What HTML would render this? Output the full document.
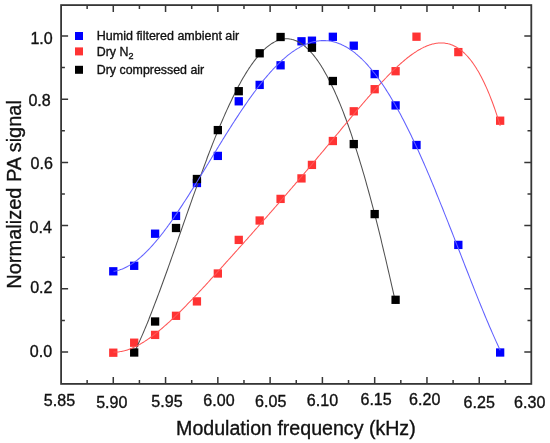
<!DOCTYPE html>
<html><head><meta charset="utf-8"><style>
html,body{margin:0;padding:0;background:#fff;}
svg{display:block;}
text{font-family:"Liberation Sans",Arial,sans-serif;fill:#111;stroke:#111;stroke-width:0.35px;}
</style></head><body>
<svg width="550" height="443" viewBox="0 0 550 443">
<rect width="550" height="443" fill="#fff"/>
<g>
<rect x="109.13" y="267.15" width="8.3" height="8.3" fill="#0000ff"/>
<rect x="130.04" y="261.65" width="8.3" height="8.3" fill="#0000ff"/>
<rect x="150.95" y="229.55" width="8.3" height="8.3" fill="#0000ff"/>
<rect x="171.87" y="211.75" width="8.3" height="8.3" fill="#0000ff"/>
<rect x="192.78" y="178.85" width="8.3" height="8.3" fill="#0000ff"/>
<rect x="213.69" y="151.75" width="8.3" height="8.3" fill="#0000ff"/>
<rect x="234.60" y="97.15" width="8.3" height="8.3" fill="#0000ff"/>
<rect x="255.51" y="80.75" width="8.3" height="8.3" fill="#0000ff"/>
<rect x="276.43" y="61.15" width="8.3" height="8.3" fill="#0000ff"/>
<rect x="297.34" y="37.15" width="8.3" height="8.3" fill="#0000ff"/>
<rect x="307.79" y="36.55" width="8.3" height="8.3" fill="#0000ff"/>
<rect x="328.71" y="32.65" width="8.3" height="8.3" fill="#0000ff"/>
<rect x="349.62" y="41.55" width="8.3" height="8.3" fill="#0000ff"/>
<rect x="370.53" y="69.95" width="8.3" height="8.3" fill="#0000ff"/>
<rect x="391.44" y="101.25" width="8.3" height="8.3" fill="#0000ff"/>
<rect x="412.35" y="140.85" width="8.3" height="8.3" fill="#0000ff"/>
<rect x="454.18" y="240.75" width="8.3" height="8.3" fill="#0000ff"/>
<rect x="496.00" y="348.35" width="8.3" height="8.3" fill="#0000ff"/>
<rect x="109.13" y="348.55" width="8.3" height="8.3" fill="#ff3333"/>
<rect x="130.04" y="338.55" width="8.3" height="8.3" fill="#ff3333"/>
<rect x="150.95" y="330.75" width="8.3" height="8.3" fill="#ff3333"/>
<rect x="171.87" y="311.65" width="8.3" height="8.3" fill="#ff3333"/>
<rect x="192.78" y="297.25" width="8.3" height="8.3" fill="#ff3333"/>
<rect x="213.69" y="269.35" width="8.3" height="8.3" fill="#ff3333"/>
<rect x="234.60" y="235.75" width="8.3" height="8.3" fill="#ff3333"/>
<rect x="255.51" y="216.35" width="8.3" height="8.3" fill="#ff3333"/>
<rect x="276.43" y="194.75" width="8.3" height="8.3" fill="#ff3333"/>
<rect x="297.34" y="174.25" width="8.3" height="8.3" fill="#ff3333"/>
<rect x="307.79" y="160.75" width="8.3" height="8.3" fill="#ff3333"/>
<rect x="328.71" y="136.85" width="8.3" height="8.3" fill="#ff3333"/>
<rect x="349.62" y="107.15" width="8.3" height="8.3" fill="#ff3333"/>
<rect x="370.53" y="85.05" width="8.3" height="8.3" fill="#ff3333"/>
<rect x="391.44" y="67.05" width="8.3" height="8.3" fill="#ff3333"/>
<rect x="412.35" y="32.55" width="8.3" height="8.3" fill="#ff3333"/>
<rect x="454.18" y="47.95" width="8.3" height="8.3" fill="#ff3333"/>
<rect x="496.00" y="116.55" width="8.3" height="8.3" fill="#ff3333"/>
</g>
<path d="M134.7,351.5 L135.7,349.5 L136.7,347.4 L137.7,345.2 L138.7,343.1 L139.7,340.9 L140.7,338.6 L141.7,336.4 L142.7,334.1 L143.7,331.7 L144.7,329.4 L145.7,327.0 L146.7,324.6 L147.7,322.2 L148.7,319.7 L149.6,317.2 L150.6,314.7 L151.6,312.2 L152.6,309.6 L153.6,307.0 L154.6,304.4 L155.6,301.8 L156.6,299.2 L157.6,296.5 L158.6,293.9 L159.6,291.2 L160.6,288.5 L161.6,285.8 L162.6,283.0 L163.6,280.3 L164.6,277.5 L165.6,274.8 L166.6,272.0 L167.6,269.2 L168.6,266.4 L169.6,263.6 L170.6,260.8 L171.6,257.9 L172.6,255.1 L173.6,252.3 L174.6,249.4 L175.6,246.6 L176.6,243.7 L177.6,240.9 L178.5,238.0 L179.5,235.2 L180.5,232.3 L181.5,229.5 L182.5,226.6 L183.5,223.8 L184.5,220.9 L185.5,218.1 L186.5,215.2 L187.5,212.4 L188.5,209.5 L189.5,206.7 L190.5,203.9 L191.5,201.1 L192.5,198.2 L193.5,195.4 L194.5,192.6 L195.5,189.9 L196.5,187.1 L197.5,184.3 L198.5,181.6 L199.5,178.8 L200.5,176.1 L201.5,173.4 L202.5,170.7 L203.5,168.0 L204.5,165.3 L205.5,162.6 L206.5,160.0 L207.4,157.3 L208.4,154.7 L209.4,152.1 L210.4,149.6 L211.4,147.0 L212.4,144.4 L213.4,141.9 L214.4,139.4 L215.4,136.9 L216.4,134.5 L217.4,132.0 L218.4,129.6 L219.4,127.2 L220.4,124.8 L221.4,122.5 L222.4,120.2 L223.4,117.9 L224.4,115.6 L225.4,113.3 L226.4,111.1 L227.4,108.9 L228.4,106.7 L229.4,104.6 L230.4,102.5 L231.4,100.4 L232.4,98.3 L233.4,96.3 L234.4,94.3 L235.4,92.3 L236.3,90.3 L237.3,88.4 L238.3,86.5 L239.3,84.7 L240.3,82.9 L241.3,81.1 L242.3,79.3 L243.3,77.6 L244.3,75.9 L245.3,74.2 L246.3,72.6 L247.3,71.0 L248.3,69.5 L249.3,67.9 L250.3,66.5 L251.3,65.0 L252.3,63.6 L253.3,62.2 L254.3,60.9 L255.3,59.6 L256.3,58.3 L257.3,57.1 L258.3,55.9 L259.3,54.7 L260.3,53.6 L261.3,52.5 L262.3,51.5 L263.3,50.5 L264.3,49.5 L265.2,48.6 L266.2,47.7 L267.2,46.9 L268.2,46.1 L269.2,45.3 L270.2,44.6 L271.2,43.9 L272.2,43.3 L273.2,42.7 L274.2,42.1 L275.2,41.6 L276.2,41.1 L277.2,40.7 L278.2,40.3 L279.2,40.0 L280.2,39.7 L281.2,39.4 L282.2,39.2 L283.2,39.0 L284.2,38.9 L285.2,38.8 L286.2,38.8 L287.2,38.8 L288.2,38.8 L289.2,38.9 L290.2,39.1 L291.2,39.2 L292.2,39.5 L293.2,39.7 L294.2,40.1 L295.1,40.4 L296.1,40.8 L297.1,41.3 L298.1,41.8 L299.1,42.3 L300.1,42.9 L301.1,43.5 L302.1,44.2 L303.1,44.9 L304.1,45.7 L305.1,46.5 L306.1,47.4 L307.1,48.3 L308.1,49.2 L309.1,50.2 L310.1,51.3 L311.1,52.4 L312.1,53.5 L313.1,54.7 L314.1,55.9 L315.1,57.2 L316.1,58.5 L317.1,59.9 L318.1,61.3 L319.1,62.8 L320.1,64.3 L321.1,65.8 L322.1,67.4 L323.1,69.1 L324.0,70.7 L325.0,72.5 L326.0,74.3 L327.0,76.1 L328.0,78.0 L329.0,79.9 L330.0,81.8 L331.0,83.8 L332.0,85.9 L333.0,88.0 L334.0,90.1 L335.0,92.3 L336.0,94.6 L337.0,96.8 L338.0,99.2 L339.0,101.5 L340.0,103.9 L341.0,106.4 L342.0,108.9 L343.0,111.4 L344.0,114.0 L345.0,116.7 L346.0,119.3 L347.0,122.1 L348.0,124.8 L349.0,127.6 L350.0,130.5 L351.0,133.4 L352.0,136.3 L352.9,139.3 L353.9,142.3 L354.9,145.4 L355.9,148.5 L356.9,151.6 L357.9,154.8 L358.9,158.0 L359.9,161.3 L360.9,164.6 L361.9,167.9 L362.9,171.3 L363.9,174.7 L364.9,178.2 L365.9,181.7 L366.9,185.3 L367.9,188.9 L368.9,192.5 L369.9,196.1 L370.9,199.8 L371.9,203.6 L372.9,207.4 L373.9,211.2 L374.9,215.0 L375.9,218.9 L376.9,222.8 L377.9,226.8 L378.9,230.8 L379.9,234.8 L380.9,238.9 L381.8,243.0 L382.8,247.1 L383.8,251.3 L384.8,255.5 L385.8,259.7 L386.8,264.0 L387.8,268.3 L388.8,272.6 L389.8,277.0 L390.8,281.4 L391.8,285.8 L392.8,290.2 L393.8,294.7 L394.8,299.2 L395.8,303.8" fill="none" stroke="#505050" stroke-width="1.05"/>
<g>
<rect x="130.04" y="348.35" width="8.3" height="8.3" fill="#000000"/>
<rect x="150.95" y="317.35" width="8.3" height="8.3" fill="#000000"/>
<rect x="171.87" y="223.85" width="8.3" height="8.3" fill="#000000"/>
<rect x="192.78" y="174.85" width="8.3" height="8.3" fill="#000000"/>
<rect x="213.69" y="125.95" width="8.3" height="8.3" fill="#000000"/>
<rect x="234.60" y="87.05" width="8.3" height="8.3" fill="#000000"/>
<rect x="255.51" y="49.15" width="8.3" height="8.3" fill="#000000"/>
<rect x="276.43" y="32.85" width="8.3" height="8.3" fill="#000000"/>
<rect x="307.79" y="43.55" width="8.3" height="8.3" fill="#000000"/>
<rect x="328.71" y="76.85" width="8.3" height="8.3" fill="#000000"/>
<rect x="349.62" y="139.95" width="8.3" height="8.3" fill="#000000"/>
<rect x="370.53" y="209.95" width="8.3" height="8.3" fill="#000000"/>
<rect x="391.44" y="295.65" width="8.3" height="8.3" fill="#000000"/>
</g>
<path d="M113.4,352.0 L114.4,352.0 L115.4,352.0 L116.4,352.0 L117.4,351.9 L118.4,351.9 L119.4,351.7 L120.4,351.6 L121.4,351.4 L122.4,351.2 L123.4,351.0 L124.4,350.8 L125.4,350.5 L126.4,350.2 L127.4,349.9 L128.4,349.6 L129.4,349.2 L130.4,348.8 L131.4,348.4 L132.4,348.0 L133.4,347.6 L134.4,347.1 L135.4,346.6 L136.4,346.2 L137.4,345.6 L138.4,345.1 L139.4,344.6 L140.4,344.0 L141.4,343.4 L142.4,342.8 L143.4,342.2 L144.4,341.6 L145.4,340.9 L146.4,340.3 L147.4,339.6 L148.4,338.9 L149.4,338.2 L150.4,337.5 L151.4,336.8 L152.4,336.0 L153.4,335.3 L154.4,334.5 L155.4,333.7 L156.4,332.9 L157.4,332.1 L158.4,331.3 L159.4,330.5 L160.4,329.7 L161.4,328.8 L162.4,328.0 L163.4,327.1 L164.4,326.2 L165.4,325.4 L166.4,324.5 L167.4,323.6 L168.4,322.7 L169.4,321.8 L170.4,320.8 L171.4,319.9 L172.4,319.0 L173.4,318.0 L174.4,317.1 L175.4,316.1 L176.4,315.2 L177.4,314.2 L178.4,313.2 L179.4,312.3 L180.4,311.3 L181.4,310.3 L182.4,309.3 L183.4,308.3 L184.4,307.3 L185.4,306.3 L186.4,305.3 L187.4,304.2 L188.4,303.2 L189.4,302.2 L190.4,301.1 L191.4,300.1 L192.4,299.1 L193.4,298.0 L194.4,297.0 L195.4,295.9 L196.4,294.9 L197.4,293.8 L198.4,292.8 L199.4,291.7 L200.4,290.6 L201.4,289.6 L202.4,288.5 L203.4,287.4 L204.4,286.3 L205.4,285.3 L206.4,284.2 L207.4,283.1 L208.4,282.0 L209.4,280.9 L210.3,279.8 L211.3,278.7 L212.3,277.7 L213.3,276.6 L214.3,275.5 L215.3,274.4 L216.3,273.3 L217.3,272.2 L218.3,271.1 L219.3,270.0 L220.3,268.9 L221.3,267.8 L222.3,266.7 L223.3,265.6 L224.3,264.4 L225.3,263.3 L226.3,262.2 L227.3,261.1 L228.3,260.0 L229.3,258.9 L230.3,257.8 L231.3,256.7 L232.3,255.6 L233.3,254.4 L234.3,253.3 L235.3,252.2 L236.3,251.1 L237.3,250.0 L238.3,248.9 L239.3,247.7 L240.3,246.6 L241.3,245.5 L242.3,244.4 L243.3,243.3 L244.3,242.1 L245.3,241.0 L246.3,239.9 L247.3,238.8 L248.3,237.6 L249.3,236.5 L250.3,235.4 L251.3,234.3 L252.3,233.1 L253.3,232.0 L254.3,230.9 L255.3,229.7 L256.3,228.6 L257.3,227.5 L258.3,226.3 L259.3,225.2 L260.3,224.1 L261.3,223.0 L262.3,221.8 L263.3,220.7 L264.3,219.5 L265.3,218.4 L266.3,217.3 L267.3,216.1 L268.3,215.0 L269.3,213.9 L270.3,212.7 L271.3,211.6 L272.3,210.4 L273.3,209.3 L274.3,208.1 L275.3,207.0 L276.3,205.9 L277.3,204.7 L278.3,203.6 L279.3,202.4 L280.3,201.3 L281.3,200.1 L282.3,199.0 L283.3,197.8 L284.3,196.7 L285.3,195.5 L286.3,194.3 L287.3,193.2 L288.3,192.0 L289.3,190.9 L290.3,189.7 L291.3,188.5 L292.3,187.4 L293.3,186.2 L294.3,185.1 L295.3,183.9 L296.3,182.7 L297.3,181.6 L298.3,180.4 L299.3,179.2 L300.3,178.0 L301.3,176.9 L302.3,175.7 L303.3,174.5 L304.3,173.3 L305.3,172.2 L306.3,171.0 L307.3,169.8 L308.3,168.6 L309.3,167.4 L310.3,166.3 L311.3,165.1 L312.3,163.9 L313.3,162.7 L314.3,161.5 L315.3,160.3 L316.3,159.1 L317.3,157.9 L318.3,156.7 L319.3,155.5 L320.3,154.4 L321.3,153.2 L322.3,152.0 L323.3,150.8 L324.3,149.6 L325.3,148.4 L326.3,147.2 L327.3,146.0 L328.3,144.8 L329.3,143.6 L330.3,142.4 L331.3,141.2 L332.3,140.0 L333.3,138.8 L334.3,137.6 L335.3,136.4 L336.3,135.2 L337.3,134.0 L338.3,132.8 L339.3,131.6 L340.3,130.4 L341.3,129.1 L342.3,127.9 L343.3,126.7 L344.3,125.5 L345.3,124.3 L346.3,123.1 L347.3,122.0 L348.3,120.8 L349.3,119.6 L350.3,118.4 L351.3,117.2 L352.3,116.0 L353.3,114.8 L354.3,113.6 L355.3,112.4 L356.3,111.2 L357.3,110.0 L358.3,108.9 L359.3,107.7 L360.3,106.5 L361.3,105.3 L362.3,104.2 L363.3,103.0 L364.3,101.8 L365.3,100.7 L366.3,99.5 L367.3,98.4 L368.3,97.2 L369.3,96.1 L370.3,94.9 L371.3,93.8 L372.3,92.7 L373.3,91.6 L374.3,90.4 L375.3,89.3 L376.3,88.2 L377.3,87.1 L378.3,86.0 L379.3,84.9 L380.3,83.8 L381.3,82.7 L382.3,81.7 L383.3,80.6 L384.3,79.6 L385.3,78.5 L386.3,77.5 L387.3,76.4 L388.3,75.4 L389.3,74.4 L390.3,73.4 L391.3,72.4 L392.3,71.4 L393.3,70.4 L394.3,69.5 L395.3,68.5 L396.3,67.6 L397.3,66.6 L398.3,65.7 L399.3,64.8 L400.3,63.9 L401.3,63.0 L402.3,62.2 L403.3,61.3 L404.2,60.5 L405.2,59.6 L406.2,58.8 L407.2,58.0 L408.2,57.2 L409.2,56.5 L410.2,55.7 L411.2,55.0 L412.2,54.3 L413.2,53.6 L414.2,52.9 L415.2,52.2 L416.2,51.6 L417.2,50.9 L418.2,50.3 L419.2,49.7 L420.2,49.2 L421.2,48.6 L422.2,48.1 L423.2,47.6 L424.2,47.1 L425.2,46.7 L426.2,46.2 L427.2,45.8 L428.2,45.4 L429.2,45.1 L430.2,44.7 L431.2,44.4 L432.2,44.1 L433.2,43.9 L434.2,43.7 L435.2,43.5 L436.2,43.3 L437.2,43.2 L438.2,43.1 L439.2,43.0 L440.2,42.9 L441.2,42.9 L442.2,42.9 L443.2,43.0 L444.2,43.1 L445.2,43.2 L446.2,43.4 L447.2,43.5 L448.2,43.8 L449.2,44.0 L450.2,44.3 L451.2,44.7 L452.2,45.1 L453.2,45.5 L454.2,46.0 L455.2,46.5 L456.2,47.0 L457.2,47.6 L458.2,48.2 L459.2,48.9 L460.2,49.6 L461.2,50.4 L462.2,51.2 L463.2,52.1 L464.2,53.0 L465.2,54.0 L466.2,55.0 L467.2,56.0 L468.2,57.1 L469.2,58.3 L470.2,59.5 L471.2,60.8 L472.2,62.1 L473.2,63.5 L474.2,65.0 L475.2,66.5 L476.2,68.0 L477.2,69.7 L478.2,71.3 L479.2,73.1 L480.2,74.9 L481.2,76.8 L482.2,78.7 L483.2,80.7 L484.2,82.8 L485.2,84.9 L486.2,87.1 L487.2,89.4 L488.2,91.7 L489.2,94.1 L490.2,96.6 L491.2,99.2 L492.2,101.8 L493.2,104.5 L494.2,107.3 L495.2,110.2 L496.2,113.1 L497.2,116.2 L498.2,119.3 L499.2,122.5 L500.2,125.8" fill="none" stroke="#ff5555" stroke-width="1.05"/>
<path d="M113.5,271.3 L114.5,271.2 L115.5,271.0 L116.5,270.8 L117.5,270.5 L118.5,270.3 L119.5,270.0 L120.5,269.6 L121.5,269.3 L122.5,268.9 L123.5,268.5 L124.5,268.0 L125.5,267.5 L126.5,267.0 L127.5,266.5 L128.5,265.9 L129.5,265.4 L130.5,264.8 L131.5,264.1 L132.5,263.5 L133.5,262.8 L134.5,262.1 L135.5,261.3 L136.5,260.6 L137.5,259.8 L138.5,259.0 L139.5,258.1 L140.5,257.3 L141.5,256.4 L142.5,255.5 L143.5,254.6 L144.5,253.6 L145.5,252.6 L146.5,251.7 L147.5,250.7 L148.5,249.6 L149.5,248.6 L150.5,247.5 L151.5,246.4 L152.5,245.3 L153.5,244.2 L154.5,243.0 L155.5,241.9 L156.5,240.7 L157.5,239.5 L158.5,238.3 L159.5,237.0 L160.5,235.8 L161.5,234.5 L162.5,233.3 L163.5,232.0 L164.5,230.6 L165.5,229.3 L166.5,228.0 L167.5,226.6 L168.5,225.3 L169.5,223.9 L170.5,222.5 L171.5,221.1 L172.5,219.7 L173.5,218.2 L174.5,216.8 L175.5,215.3 L176.5,213.9 L177.5,212.4 L178.4,210.9 L179.4,209.4 L180.4,207.9 L181.4,206.4 L182.4,204.9 L183.4,203.3 L184.4,201.8 L185.4,200.3 L186.4,198.7 L187.4,197.1 L188.4,195.6 L189.4,194.0 L190.4,192.4 L191.4,190.8 L192.4,189.2 L193.4,187.6 L194.4,186.0 L195.4,184.4 L196.4,182.8 L197.4,181.2 L198.4,179.5 L199.4,177.9 L200.4,176.3 L201.4,174.6 L202.4,173.0 L203.4,171.4 L204.4,169.7 L205.4,168.1 L206.4,166.5 L207.4,164.8 L208.4,163.2 L209.4,161.5 L210.4,159.9 L211.4,158.2 L212.4,156.6 L213.4,154.9 L214.4,153.3 L215.4,151.7 L216.4,150.0 L217.4,148.4 L218.4,146.8 L219.4,145.1 L220.4,143.5 L221.4,141.9 L222.4,140.3 L223.4,138.6 L224.4,137.0 L225.4,135.4 L226.4,133.8 L227.4,132.2 L228.4,130.6 L229.4,129.0 L230.4,127.5 L231.4,125.9 L232.4,124.3 L233.4,122.7 L234.4,121.2 L235.4,119.6 L236.4,118.1 L237.4,116.6 L238.4,115.1 L239.4,113.5 L240.4,112.0 L241.4,110.5 L242.4,109.0 L243.4,107.6 L244.4,106.1 L245.4,104.6 L246.4,103.2 L247.4,101.8 L248.4,100.3 L249.4,98.9 L250.4,97.5 L251.4,96.1 L252.4,94.7 L253.4,93.4 L254.4,92.0 L255.4,90.7 L256.4,89.3 L257.4,88.0 L258.4,86.7 L259.4,85.4 L260.4,84.1 L261.4,82.9 L262.4,81.6 L263.4,80.4 L264.4,79.2 L265.4,78.0 L266.4,76.8 L267.4,75.6 L268.4,74.5 L269.4,73.3 L270.4,72.2 L271.4,71.1 L272.4,70.0 L273.4,68.9 L274.4,67.9 L275.4,66.8 L276.4,65.8 L277.4,64.8 L278.4,63.8 L279.4,62.8 L280.4,61.9 L281.4,60.9 L282.4,60.0 L283.4,59.1 L284.4,58.3 L285.4,57.4 L286.4,56.6 L287.4,55.7 L288.4,54.9 L289.4,54.2 L290.4,53.4 L291.4,52.7 L292.4,51.9 L293.4,51.2 L294.4,50.6 L295.4,49.9 L296.4,49.3 L297.4,48.6 L298.4,48.1 L299.4,47.5 L300.4,46.9 L301.4,46.4 L302.4,45.9 L303.4,45.4 L304.4,44.9 L305.4,44.5 L306.4,44.1 L307.3,43.7 L308.3,43.3 L309.3,43.0 L310.3,42.7 L311.3,42.3 L312.3,42.1 L313.3,41.8 L314.3,41.6 L315.3,41.4 L316.3,41.2 L317.3,41.0 L318.3,40.9 L319.3,40.8 L320.3,40.7 L321.3,40.6 L322.3,40.6 L323.3,40.6 L324.3,40.6 L325.3,40.6 L326.3,40.7 L327.3,40.7 L328.3,40.8 L329.3,41.0 L330.3,41.1 L331.3,41.3 L332.3,41.5 L333.3,41.7 L334.3,42.0 L335.3,42.3 L336.3,42.6 L337.3,42.9 L338.3,43.3 L339.3,43.7 L340.3,44.1 L341.3,44.5 L342.3,45.0 L343.3,45.4 L344.3,46.0 L345.3,46.5 L346.3,47.0 L347.3,47.6 L348.3,48.2 L349.3,48.9 L350.3,49.5 L351.3,50.2 L352.3,50.9 L353.3,51.7 L354.3,52.4 L355.3,53.2 L356.3,54.1 L357.3,54.9 L358.3,55.8 L359.3,56.7 L360.3,57.6 L361.3,58.5 L362.3,59.5 L363.3,60.5 L364.3,61.5 L365.3,62.5 L366.3,63.6 L367.3,64.7 L368.3,65.8 L369.3,67.0 L370.3,68.1 L371.3,69.3 L372.3,70.5 L373.3,71.8 L374.3,73.0 L375.3,74.3 L376.3,75.6 L377.3,77.0 L378.3,78.3 L379.3,79.7 L380.3,81.1 L381.3,82.6 L382.3,84.0 L383.3,85.5 L384.3,87.0 L385.3,88.5 L386.3,90.1 L387.3,91.7 L388.3,93.3 L389.3,94.9 L390.3,96.5 L391.3,98.2 L392.3,99.9 L393.3,101.6 L394.3,103.3 L395.3,105.0 L396.3,106.8 L397.3,108.6 L398.3,110.4 L399.3,112.3 L400.3,114.1 L401.3,116.0 L402.3,117.9 L403.3,119.8 L404.3,121.8 L405.3,123.7 L406.3,125.7 L407.3,127.7 L408.3,129.7 L409.3,131.7 L410.3,133.8 L411.3,135.8 L412.3,137.9 L413.3,140.0 L414.3,142.2 L415.3,144.3 L416.3,146.5 L417.3,148.6 L418.3,150.8 L419.3,153.0 L420.3,155.3 L421.3,157.5 L422.3,159.8 L423.3,162.0 L424.3,164.3 L425.3,166.6 L426.3,168.9 L427.3,171.2 L428.3,173.6 L429.3,175.9 L430.3,178.3 L431.3,180.7 L432.3,183.1 L433.3,185.5 L434.3,187.9 L435.3,190.3 L436.2,192.7 L437.2,195.2 L438.2,197.6 L439.2,200.1 L440.2,202.6 L441.2,205.1 L442.2,207.5 L443.2,210.0 L444.2,212.6 L445.2,215.1 L446.2,217.6 L447.2,220.1 L448.2,222.6 L449.2,225.2 L450.2,227.7 L451.2,230.3 L452.2,232.8 L453.2,235.4 L454.2,237.9 L455.2,240.5 L456.2,243.1 L457.2,245.6 L458.2,248.2 L459.2,250.8 L460.2,253.3 L461.2,255.9 L462.2,258.5 L463.2,261.0 L464.2,263.6 L465.2,266.2 L466.2,268.7 L467.2,271.3 L468.2,273.8 L469.2,276.4 L470.2,278.9 L471.2,281.5 L472.2,284.0 L473.2,286.5 L474.2,289.1 L475.2,291.6 L476.2,294.1 L477.2,296.6 L478.2,299.1 L479.2,301.6 L480.2,304.0 L481.2,306.5 L482.2,308.9 L483.2,311.4 L484.2,313.8 L485.2,316.2 L486.2,318.6 L487.2,321.0 L488.2,323.3 L489.2,325.7 L490.2,328.0 L491.2,330.3 L492.2,332.6 L493.2,334.9 L494.2,337.1 L495.2,339.4 L496.2,341.6 L497.2,343.8 L498.2,345.9 L499.2,348.1 L500.2,350.2" fill="none" stroke="#6060ff" stroke-width="1.05"/>
<rect x="61.1" y="5.1" width="470.20" height="378.80" fill="none" stroke="#363636" stroke-width="1.8"/>
<path d="M87.14,383.9 V380.10 M87.14,5.1 V8.90 M113.28,383.9 V376.90 M113.28,5.1 V12.10 M139.42,383.9 V380.10 M139.42,5.1 V8.90 M165.56,383.9 V376.90 M165.56,5.1 V12.10 M191.70,383.9 V380.10 M191.70,5.1 V8.90 M217.84,383.9 V376.90 M217.84,5.1 V12.10 M243.98,383.9 V380.10 M243.98,5.1 V8.90 M270.12,383.9 V376.90 M270.12,5.1 V12.10 M296.26,383.9 V380.10 M296.26,5.1 V8.90 M322.40,383.9 V376.90 M322.40,5.1 V12.10 M348.54,383.9 V380.10 M348.54,5.1 V8.90 M374.68,383.9 V376.90 M374.68,5.1 V12.10 M400.82,383.9 V380.10 M400.82,5.1 V8.90 M426.96,383.9 V376.90 M426.96,5.1 V12.10 M453.10,383.9 V380.10 M453.10,5.1 V8.90 M479.24,383.9 V376.90 M479.24,5.1 V12.10 M505.38,383.9 V380.10 M505.38,5.1 V8.90 M61.1,352.00 H68.10 M531.3,352.00 H524.30 M61.1,320.40 H64.90 M531.3,320.40 H527.50 M61.1,288.80 H68.10 M531.3,288.80 H524.30 M61.1,257.20 H64.90 M531.3,257.20 H527.50 M61.1,225.60 H68.10 M531.3,225.60 H524.30 M61.1,194.00 H64.90 M531.3,194.00 H527.50 M61.1,162.40 H68.10 M531.3,162.40 H524.30 M61.1,130.80 H64.90 M531.3,130.80 H527.50 M61.1,99.20 H68.10 M531.3,99.20 H524.30 M61.1,67.60 H64.90 M531.3,67.60 H527.50 M61.1,36.00 H68.10 M531.3,36.00 H524.30" stroke="#363636" stroke-width="1.5" fill="none"/>
<g font-size="15.6">
<text transform="translate(41.55,43.80) scale(1.03,1)" text-anchor="middle">1.0</text>
<text transform="translate(39.55,106.10) scale(1.03,1)" text-anchor="middle">0.8</text>
<text transform="translate(41.75,168.80) scale(1.03,1)" text-anchor="middle">0.6</text>
<text transform="translate(40.65,232.60) scale(1.03,1)" text-anchor="middle">0.4</text>
<text transform="translate(41.35,293.40) scale(1.03,1)" text-anchor="middle">0.2</text>
<text transform="translate(41.00,357.10) scale(1.03,1)" text-anchor="middle">0.0</text>
<text transform="translate(59.45,406.10) scale(1.03,1)" text-anchor="middle">5.85</text>
<text transform="translate(111.80,407.70) scale(1.03,1)" text-anchor="middle">5.90</text>
<text transform="translate(166.95,406.60) scale(1.03,1)" text-anchor="middle">5.95</text>
<text transform="translate(219.00,406.40) scale(1.03,1)" text-anchor="middle">6.00</text>
<text transform="translate(270.75,406.60) scale(1.03,1)" text-anchor="middle">6.05</text>
<text transform="translate(322.45,406.40) scale(1.03,1)" text-anchor="middle">6.10</text>
<text transform="translate(376.10,405.40) scale(1.03,1)" text-anchor="middle">6.15</text>
<text transform="translate(424.75,405.40) scale(1.03,1)" text-anchor="middle">6.20</text>
<text transform="translate(479.20,408.10) scale(1.03,1)" text-anchor="middle">6.25</text>
<text transform="translate(529.70,408.10) scale(1.03,1)" text-anchor="middle">6.30</text>
</g>
<text x="176.10" y="434.50" font-size="19.6">Modulation frequency (kHz)</text>
<text transform="translate(21.30,288.70) rotate(-90)" font-size="20">Normalized PA signal</text>
<rect x="75" y="32" width="8" height="8" fill="#0000ff"/>
<rect x="75" y="47.4" width="8" height="8" fill="#ff3333"/>
<rect x="75" y="65.8" width="8" height="8" fill="#000000"/>
<g font-size="12.4">
<text x="96.80" y="39.80" font-size="12.5">Humid filtered ambient air</text>
<text x="96.80" y="56.00">Dry N<tspan font-size="9" dy="3.2">2</tspan></text>
<text x="96.80" y="73.60">Dry compressed air</text>
</g>
</svg>
</body></html>
